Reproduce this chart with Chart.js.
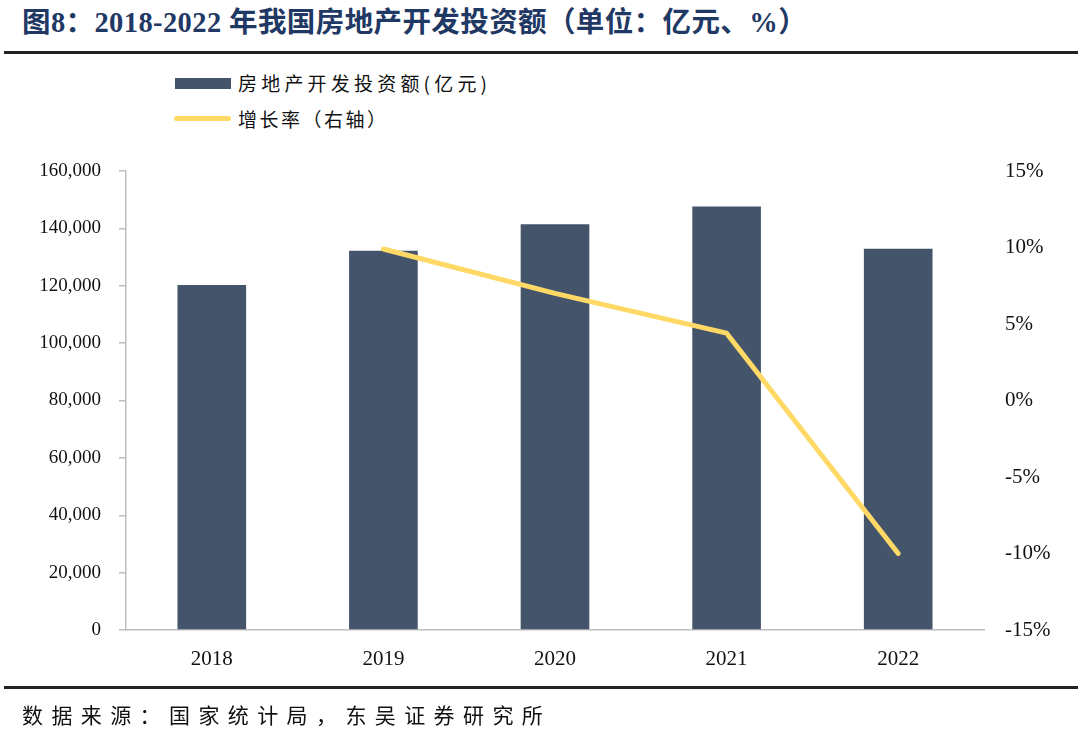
<!DOCTYPE html>
<html>
<head>
<meta charset="utf-8">
<script src="https://cdn.jsdelivr.net/npm/chart.js@4.4.0/dist/chart.umd.min.js"></script>
<style>
  html, body { margin:0; padding:0; background:#fff; }
  #wrap { position:relative; width:1080px; height:737px; overflow:hidden; background:#fff; }
  #c { position:absolute; left:0; top:0; }
  .title { position:absolute; left:22px; top:5px; font-family:"Liberation Serif","Noto Sans CJK SC",serif; font-weight:bold; font-size:28.5px; letter-spacing:0.4px; color:#1F3864; white-space:nowrap; line-height:36px; }
  .rule { position:absolute; left:4px; width:1074px; height:3px; background:#222; }
  .lg { position:absolute; font-family:"Noto Sans CJK SC",sans-serif; font-size:19px; color:#111; white-space:nowrap; letter-spacing:2.5px; line-height:24px; }
  .src { position:absolute; left:22px; top:699px; font-family:"Noto Sans CJK SC",sans-serif; font-size:21px; color:#111; letter-spacing:8.4px; white-space:nowrap; line-height:30px; }
</style>
</head>
<body>
<div id="wrap">
  <div class="title">图8：2018-2022 年我国房地产开发投资额（单位：亿元、%）</div>
  <div class="rule" style="top:51px;"></div>
  <div style="position:absolute;left:175px;top:78px;width:56px;height:11px;background:#44546A;"></div>
  <div class="lg" style="left:238px;top:71px;letter-spacing:4.2px;">房地产开发投资额(亿元)</div>
  <div style="position:absolute;left:174px;top:116px;width:57px;height:5px;border-radius:3px;background:#FFD966;"></div>
  <div class="lg" style="left:238px;top:107px;">增长率（右轴）</div>
  <canvas id="c" width="1080" height="737"></canvas>
  <div class="rule" style="top:686px;"></div>
  <div class="src">数据来源：国家统计局，东吴证券研究所</div>
</div>
<script>
const years = ["2018", "2019", "2020", "2021", "2022"];
const investment = [120264, 132194, 141443, 147602, 132895];
const growth = [null, 9.9, 7.0, 4.4, -10.0];
const leftTicks = [0, 20000, 40000, 60000, 80000, 100000, 120000, 140000, 160000];
const rightTicks = [-15, -10, -5, 0, 5, 10, 15];

const serif = "'Liberation Serif', 'Times New Roman', serif";

new Chart(document.getElementById('c'), {
  data: {
    labels: years,
    datasets: [
      {
        type: 'line',
        label: '增长率（右轴）',
        data: growth,
        yAxisID: 'y1',
        borderColor: '#FFD966',
        borderWidth: 5,
        borderCapStyle: 'round',
        borderJoinStyle: 'round',
        pointRadius: 0,
        tension: 0,
        spanGaps: false,
        order: 0
      },
      {
        type: 'bar',
        label: '房地产开发投资额(亿元)',
        data: investment,
        yAxisID: 'y',
        backgroundColor: '#44546A',
        barPercentage: 0.4,
        categoryPercentage: 1.0,
        order: 1
      }
    ]
  },
  options: {
    responsive: false,
    animation: false,
    devicePixelRatio: 1,
    layout: { padding: { top: 171, left: 0, right: 0, bottom: 0 } },
    plugins: { legend: { display: false }, tooltip: { enabled: false } },
    scales: {
      x: {
        grid: { display: false, drawTicks: false },
        border: { display: true, color: '#BFBFBF', width: 1.5 },
        ticks: { color: '#111', font: { family: serif, size: 21 }, padding: 17 },
        afterFit: s => { s.height = 107; }
      },
      y: {
        position: 'left',
        min: 0, max: 160000,
        afterBuildTicks: s => { s.ticks = leftTicks.map(v => ({ value: v })); },
        grid: { drawOnChartArea: false, drawTicks: true, tickLength: 7, color: '#BFBFBF', lineWidth: 1.5 },
        border: { display: true, color: '#BFBFBF', width: 1.5 },
        ticks: { color: '#111', font: { family: serif, size: 19 }, padding: 18,
                 callback: v => v.toLocaleString('en-US') },
        afterFit: s => { s.width = 126; }
      },
      y1: {
        position: 'right',
        min: -15, max: 15,
        afterBuildTicks: s => { s.ticks = rightTicks.map(v => ({ value: v })); },
        grid: { display: false, drawTicks: false },
        border: { display: false },
        ticks: { color: '#111', font: { family: serif, size: 21 }, padding: 21,
                 callback: v => v + '%' },
        afterFit: s => { s.width = 96; }
      }
    }
  }
});
</script>
</body>
</html>
